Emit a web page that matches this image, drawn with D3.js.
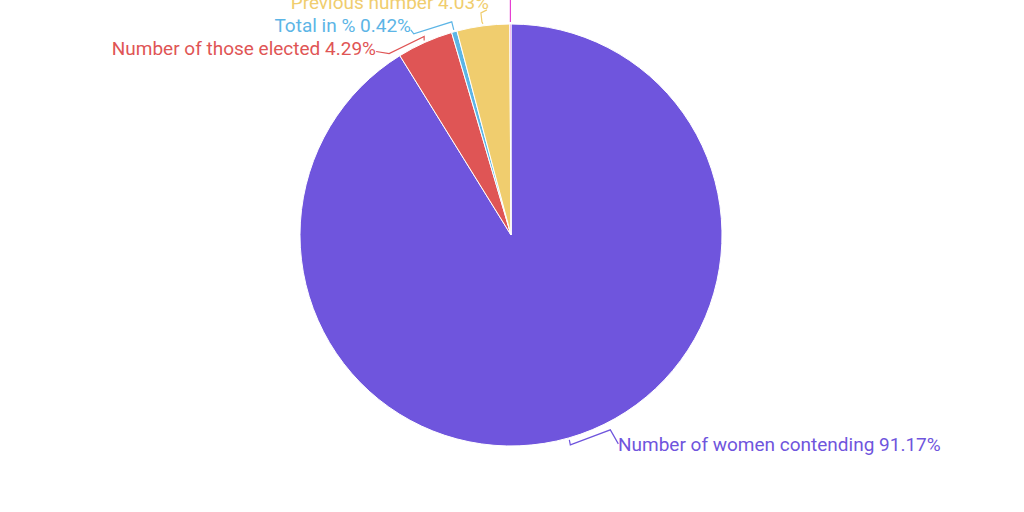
<!DOCTYPE html>
<html><head><meta charset="utf-8">
<script src="https://cdn.jsdelivr.net/npm/d3@7"></script>
<style>html,body{margin:0;padding:0;background:#fff;}svg{display:block;}</style>
</head><body>
<svg id="c" width="1024" height="512"></svg>
<script>
const categories = ["Number of women contending","Number of those elected","Total in %","Previous number","Change"];
const values = [91.17, 4.29, 0.42, 4.03, 0.09];
const colors = ["#6f55dd","#df5555","#5cb5e6","#f0cd6e","#e540d2"];

const W=1024,H=512, cx=511, cy=235, R=211;
const svg=d3.select("#c");
const g=svg.append("g").attr("transform",`translate(${cx},${cy})`);
const pie=d3.pie().sort(null).value(d=>d)(values);
const arc=d3.arc().innerRadius(0).outerRadius(R);
g.selectAll("path.s").data(pie).join("path").attr("class","s")
  .attr("d",arc).attr("fill",(d,i)=>colors[i]).attr("stroke","#fff").attr("stroke-width",1);

const layout=[
  {tx:618, ty:451, anchor:"start", elbow:[[1,5],[41,-10],[49,4]]},
  {tx:376, ty:55, anchor:"end", elbow:[[0,-4],[-35,13],[-48,11]]},
  {tx:411, ty:32, anchor:"end", elbow:[[-2,-8],[-40,4],[-43,0]]},
  {tx:489, ty:9, anchor:"end", elbow:[[-1,-2],[-2,-11],[4,-14]]},
  {tx:510, ty:-20, anchor:"middle", elbow:[[0,-30]]}
];
const lab=svg.append("g");
pie.forEach((d,i)=>{
  const a=(d.startAngle+d.endAngle)/2;
  const p0=[cx+Math.sin(a)*(R+2), cy-Math.cos(a)*(R+2)];
  const pts=[p0].concat(layout[i].elbow.map(e=>[p0[0]+e[0],p0[1]+e[1]]));
  lab.append("path").attr("d",d3.line()(pts)).attr("fill","none")
     .attr("stroke",colors[i]).attr("stroke-width",1.2);
  lab.append("text").attr("x",layout[i].tx).attr("y",layout[i].ty)
     .attr("text-anchor",layout[i].anchor).attr("fill",colors[i])
     .attr("font-family","Roboto").attr("font-size",19)
     .text(`${categories[i]} ${values[i].toFixed(2)}%`);
});
</script>
</body></html>
